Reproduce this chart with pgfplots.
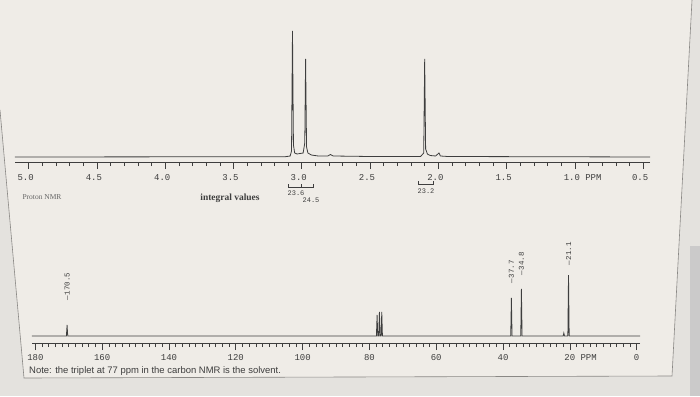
\documentclass[border=0pt]{standalone}
\usepackage{fontspec}
\setmainfont{Liberation Serif}
\setsansfont{Liberation Sans}
\setmonofont{Liberation Mono}
\usepackage{pgfplots}
\pgfplotsset{compat=1.18}
\definecolor{paper}{HTML}{EFECE7}
\definecolor{outside}{HTML}{E4E2DE}
\definecolor{strip}{HTML}{CBCACA}
\definecolor{ink}{HTML}{3E3E3E}
\definecolor{framec}{HTML}{8A8885}
\begin{document}
\begin{tikzpicture}
\begin{scope}[x=1bp,y=1bp]
  \path[use as bounding box] (0,0) rectangle (700,396);
  \fill[outside] (0,0) rectangle (700,396);
  \fill[strip] (690,0) rectangle (700,150);
  \fill[paper] (0,286) -- (24,18) -- (672,20) -- (692,396) -- (0,396) -- cycle;
  \draw[framec, line width=0.6bp] (0,286) -- (24,18) -- (672,20) -- (692,396);
  % integral marks
  \draw[ink, line width=0.5bp] (288,212) -- (288,209) -- (313,209) -- (313,212) (301,209) -- (301,212);
  \node[font=\ttfamily\fontsize{7}{8}\selectfont, text=ink, inner sep=0] at (296,203) {23.6};
  \node[font=\ttfamily\fontsize{7}{8}\selectfont, text=ink, inner sep=0] at (311,196) {24.5};
  \draw[ink, line width=0.5bp] (418,215) -- (418,212) -- (433,212) -- (433,215);
  \node[font=\ttfamily\fontsize{7}{8}\selectfont, text=ink, inner sep=0] at (426,205) {23.2};
  \node[font=\fontsize{7.5}{8}\selectfont, text=ink!80, inner sep=0] at (42,199) {Proton NMR};
  \node[font=\bfseries\fontsize{9.5}{10}\selectfont, text=ink, inner sep=0] at (230,198) {integral values};
  \node[font=\sffamily\fontsize{9.5}{10}\selectfont, text=ink, inner sep=0, anchor=west] at (29,25) {Note: the triplet at 77 ppm in the carbon NMR is the solvent.};
\end{scope}

% Proton NMR
\begin{axis}[
  at={(15bp,234bp)}, anchor=south west,
  scale only axis, width=635bp, height=136bp,
  xmin=0.45, xmax=5.10, ymin=-5, ymax=131,
  x dir=reverse,
  axis x line=bottom, axis y line=none,
  axis line style={-, draw=ink, line width=0.7bp},
  xtick={0.5,1.0,1.5,2.0,2.5,3.0,3.5,4.0,4.5,5.0},
  xticklabels={0.5,{1.0\rlap{ PPM}},1.5,2.0,2.5,3.0,3.5,4.0,4.5,5.0},
  minor x tick num=4,
  tick align=outside,
  major tick length=7bp, minor tick length=4bp,
  every tick/.style={draw=ink, line width=0.6bp},
  xticklabel style={font=\ttfamily\fontsize{9}{10}\selectfont, text=ink, inner sep=1bp, yshift=-4bp, xshift=-3bp},
  clip=false,
]
\addplot[ink, line width=0.8bp] coordinates {
 (5.10,0) (3.12,0.3) (3.085,1) (3.075,6) (3.068,126) (3.061,12) (3.052,4)
 (3.035,3) (2.99,4) (2.978,14) (2.972,98) (2.965,10) (2.955,4) (2.93,2)
 (2.88,1) (2.81,1) (2.79,2.5) (2.77,1) (2.5,0.5) (2.13,0.5) (2.107,4)
 (2.100,98) (2.093,8) (2.08,3) (2.06,1.5) (2.02,1) (1.995,4) (1.985,1)
 (1.93,0.5) (0.45,0)
};
\end{axis}

% Carbon NMR
\begin{axis}[
  at={(32bp,53bp)}, anchor=south west,
  scale only axis, width=608bp, height=72bp,
  xmin=-1, xmax=181, ymin=-7, ymax=65,
  x dir=reverse,
  axis x line=bottom, axis y line=none,
  axis line style={-, draw=ink, line width=0.7bp},
  xtick={0,20,40,60,80,100,120,140,160,180},
  xticklabels={0,{20\rlap{ PPM}},40,60,80,100,120,140,160,180},
  minor x tick num=9,
  tick align=outside,
  major tick length=7bp, minor tick length=4bp,
  every tick/.style={draw=ink, line width=0.6bp},
  xticklabel style={font=\ttfamily\fontsize{9}{10}\selectfont, text=ink, inner sep=1bp, yshift=-3bp},
  clip=false,
]
\addplot[ink, line width=0.8bp] coordinates {
 (181,0) (170.7,0) (170.5,11) (170.3,0)
 (77.9,0) (77.7,21) (77.5,0) (77.2,0) (77.0,24) (76.8,0) (76.5,0) (76.3,24) (76.1,0)
 (37.7,0) (37.5,38) (37.3,0)
 (34.7,0) (34.5,47) (34.3,0)
 (22.0,0) (21.8,3) (21.6,0)
 (20.6,0) (20.4,61) (20.2,0) (-1,0)
};
\node[rotate=90, anchor=west, font=\ttfamily\fontsize{7.5}{8}\selectfont, text=ink, inner sep=0] at (axis cs:170.5,35) {—\,170.5};
\node[rotate=90, anchor=west, font=\ttfamily\fontsize{7.5}{8}\selectfont, text=ink, inner sep=0] at (axis cs:37.5,52) {—\,37.7};
\node[rotate=90, anchor=west, font=\ttfamily\fontsize{7.5}{8}\selectfont, text=ink, inner sep=0] at (axis cs:34.5,60) {—\,34.8};
\node[rotate=90, anchor=west, font=\ttfamily\fontsize{7.5}{8}\selectfont, text=ink, inner sep=0] at (axis cs:20.4,70) {—\,21.1};
\end{axis}
\end{tikzpicture}
\end{document}
